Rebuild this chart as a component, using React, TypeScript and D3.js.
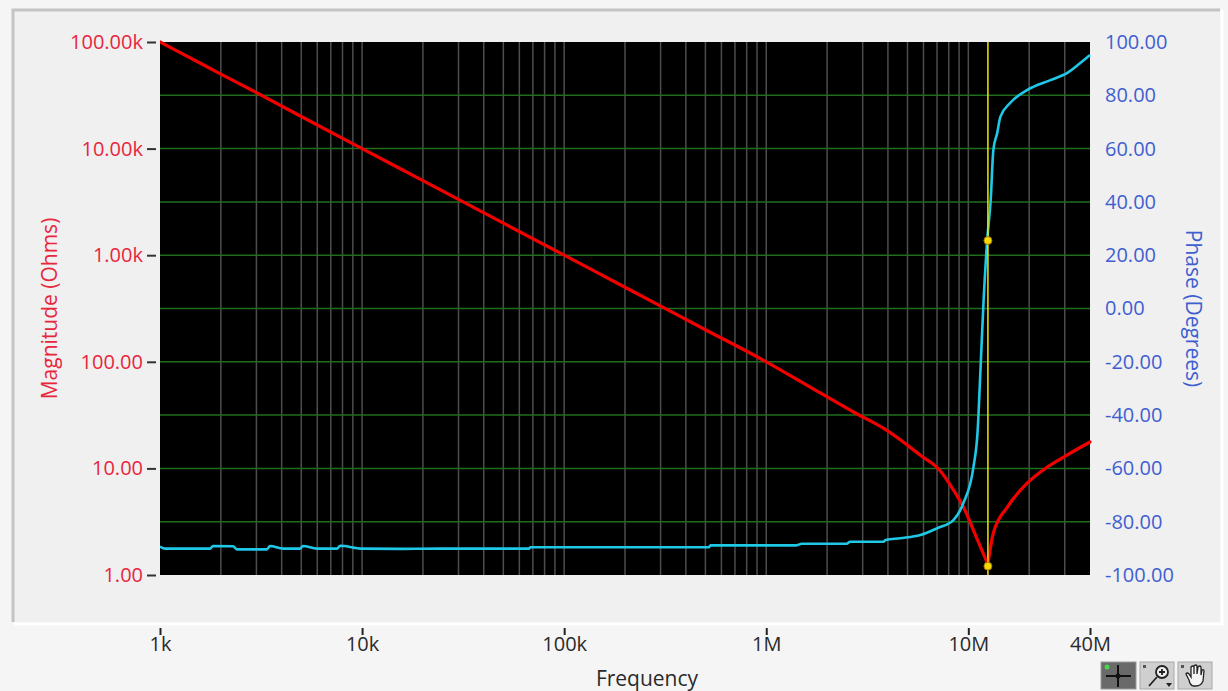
import { useEffect, useRef } from 'react';
import * as d3 from 'd3';

// Impedance sweep readings (Hz, Ohms)
const magFreq = [
  1e3, 1.3e3, 2e3, 3e3, 5e3, 1e4, 2e4, 5e4, 1e5, 2e5, 5e5, 1e6, 1.85e6, 2.7e6,
  3.97e6, 5.79e6, 7.27e6, 8.43e6, 9.45e6, 11.1e6, 12.5e6, 13.3e6, 15.6e6, 19.6e6,
  24.6e6, 30.9e6, 40e6,
];
const magValues = [
  100000, 77000, 50000, 33500, 20000, 10000, 5000, 2000, 1000, 500, 200, 100, 51, 33.8,
  22.6, 13.3, 9.47, 6.3, 4.35, 2.13, 1.25, 2.48, 4.34, 7.3,
  10.3, 13.4, 17.7,
];

// Phase readings (Hz, degrees)
const phaseFreq = [
  1e3, 1.06e3, 1.77e3, 1.83e3, 2.3e3, 2.4e3, 3.38e3, 3.5e3, 4.06e3, 4.93e3, 5.1e3, 5.98e3,
  7.52e3, 7.79e3, 1e4, 1.54e4, 2.43e4, 6.7e4, 6.8e4, 1.5e5, 5.2e5, 5.3e5, 1.4e6, 1.5e6,
  2.5e6, 2.6e6, 3.8e6, 3.9e6, 4.6e6, 5.79e6, 7.03e6, 8.43e6, 9.45e6, 10.6e6, 11.1e6, 11.5e6,
  11.9e6, 12.4e6, 12.9e6, 13.3e6, 13.9e6, 14.4e6, 16.1e6, 19.6e6, 25.5e6, 30.9e6, 35.8e6, 40e6,
];
const phaseValues = [
  -89.3, -90.1, -90.1, -89.1, -89.2, -90.4, -90.4, -89.1, -90.1, -90.1, -89.1, -90.1,
  -90.1, -89.0, -90.1, -90.2, -90.1, -90.1, -89.6, -89.6, -89.6, -88.9, -88.9, -88.3,
  -88.3, -87.5, -87.5, -86.9, -86.2, -85.0, -82.4, -79.4, -73.0, -59.5, -46.7, -22.0,
  3.2, 25.7, 40.7, 59.5, 65.9, 71.9, 77.1, 82.0, 85.7, 88.4, 92.1, 95.1,
];

const cursorFreq = 12.5e6;
const cursorMag = 1.21;
const cursorPhase = 25.5;

const magTicks = [1, 10, 100, 1e3, 1e4, 1e5];
const phaseTicks = d3.range(-100, 101, 20);
const freqTicks = [1e3, 1e4, 1e5, 1e6, 1e7, 4e7];

const W = 1228;
const H = 691;
const FONT = '"Open Sans", "DejaVu Sans", sans-serif';

export default function App() {
  const svgRef = useRef<SVGSVGElement>(null);

  useEffect(() => {
    if (!svgRef.current) return;
    const svg = d3.select(svgRef.current);
    svg.selectAll('*').remove();

    const plot = { left: 160, right: 1090, top: 42, bottom: 575 };

    const x = d3.scaleLog().domain([1e3, 4e7]).range([plot.left, plot.right]);
    const yMag = d3.scaleLog().domain([1, 1e5]).range([plot.bottom, plot.top]);
    const yPhase = d3.scaleLinear().domain([-100, 100]).range([plot.bottom, plot.top]);

    // background + panel
    svg.append('rect').attr('width', W).attr('height', H).attr('fill', '#f5f5f5');
    svg.append('rect')
      .attr('x', 12).attr('y', 9).attr('width', 1208).attr('height', 613)
      .attr('fill', '#f0f0f0');
    svg.append('path')
      .attr('d', 'M13,622 L13,10 L1220,10')
      .attr('fill', 'none').attr('stroke', '#c4c4c4').attr('stroke-width', 3);
    svg.append('path')
      .attr('d', 'M14,624 L1222,624 L1222,10')
      .attr('fill', 'none').attr('stroke', '#ffffff').attr('stroke-width', 3);

    // plot area
    svg.append('rect')
      .attr('x', plot.left).attr('y', plot.top)
      .attr('width', plot.right - plot.left).attr('height', plot.bottom - plot.top)
      .attr('fill', '#000');

    const grid = svg.append('g');
    const vLines: number[] = [];
    for (let dec = 1e3; dec <= 1e7; dec *= 10) {
      for (let m = 1; m <= 9; m++) {
        const f = dec * m;
        if (f > 1e3 && f < 4e7) vLines.push(f);
      }
    }
    grid.selectAll('.vg')
      .data(vLines)
      .enter().append('line')
      .attr('x1', d => x(d)).attr('x2', d => x(d))
      .attr('y1', plot.top).attr('y2', plot.bottom)
      .attr('stroke', '#4d4d4d').attr('stroke-width', 1.5);
    grid.selectAll('.hg')
      .data(phaseTicks.slice(1, -1))
      .enter().append('line')
      .attr('x1', plot.left).attr('x2', plot.right)
      .attr('y1', d => yPhase(d)).attr('y2', d => yPhase(d))
      .attr('stroke', '#1f6e1f').attr('stroke-width', 1.5);

    // traces
    const clip = svg.append('clipPath').attr('id', 'plotclip');
    clip.append('rect')
      .attr('x', plot.left).attr('y', plot.top - 2)
      .attr('width', plot.right - plot.left + 2).attr('height', plot.bottom - plot.top + 4);

    const traces = svg.append('g').attr('clip-path', 'url(#plotclip)');

    // magnitude drawn as falling + rising halves so the notch stays sharp
    const magPts = magFreq.map((f, i) => [f, magValues[i]] as [number, number]);
    const minIdx = d3.minIndex(magValues);
    const magLine = d3.line<[number, number]>()
      .x(d => x(d[0]))
      .y(d => yMag(d[1]))
      .curve(d3.curveMonotoneX);
    [magPts.slice(0, minIdx + 1), magPts.slice(minIdx)].forEach(part => {
      traces.append('path')
        .datum(part)
        .attr('fill', 'none')
        .attr('stroke', '#f20000')
        .attr('stroke-width', 3.2)
        .attr('stroke-linejoin', 'round')
        .attr('stroke-linecap', 'round')
        .attr('d', magLine);
    });

    const phaseLine = d3.line<number>()
      .x((_, i) => x(phaseFreq[i]))
      .y(d => yPhase(d))
      .curve(d3.curveMonotoneX);
    traces.append('path')
      .datum(phaseValues)
      .attr('fill', 'none')
      .attr('stroke', '#1ec8e6')
      .attr('stroke-width', 2.6)
      .attr('stroke-linejoin', 'round')
      .attr('d', phaseLine);

    // cursor
    traces.append('line')
      .attr('x1', x(cursorFreq)).attr('x2', x(cursorFreq))
      .attr('y1', plot.top).attr('y2', plot.bottom)
      .attr('stroke', '#f0e600').attr('stroke-width', 1.5);
    [yMag(cursorMag), yPhase(cursorPhase)].forEach(cy => {
      svg.append('circle')
        .attr('cx', x(cursorFreq)).attr('cy', cy).attr('r', 4)
        .attr('fill', '#f5d800').attr('stroke', '#a07000').attr('stroke-width', 1);
    });

    // left axis
    const fmtMag = (v: number) => (v >= 1000 ? `${(v / 1000).toFixed(2)}k` : v.toFixed(2));
    const leftAxis = svg.append('g')
      .attr('transform', `translate(${plot.left - 4},0)`)
      .call(d3.axisLeft(yMag).tickValues(magTicks).tickFormat(d => fmtMag(+d)).tickSize(9).tickPadding(4));
    leftAxis.select('.domain').remove();
    leftAxis.selectAll('.tick line').attr('stroke', '#333').attr('stroke-width', 2);
    leftAxis.selectAll('.tick text')
      .attr('fill', '#e8263c').style('font-family', FONT).style('font-size', '20px');

    // right axis
    const rightAxis = svg.append('g')
      .attr('transform', `translate(${plot.right},0)`)
      .call(d3.axisRight(yPhase).tickValues(phaseTicks).tickFormat(d => (+d).toFixed(2)).tickSize(0).tickPadding(15));
    rightAxis.select('.domain').remove();
    rightAxis.selectAll('.tick text')
      .attr('fill', '#3f5fd0').style('font-family', FONT).style('font-size', '20px');

    // bottom axis
    const fmtFreq = (v: number) => (v >= 1e6 ? `${v / 1e6}M` : `${v / 1e3}k`);
    const bottomAxis = svg.append('g')
      .attr('transform', 'translate(0,628)')
      .call(d3.axisBottom(x).tickValues(freqTicks).tickFormat(d => fmtFreq(+d)).tickSize(7).tickPadding(2));
    bottomAxis.select('.domain').remove();
    bottomAxis.selectAll('.tick line').attr('stroke', '#222').attr('stroke-width', 2);
    bottomAxis.selectAll('.tick text')
      .attr('fill', '#2a2a2a').style('font-family', FONT).style('font-size', '20px');

    // axis titles
    svg.append('text')
      .attr('transform', `translate(57,${(plot.top + plot.bottom) / 2}) rotate(-90)`)
      .attr('text-anchor', 'middle')
      .attr('fill', '#e8263c')
      .style('font-family', FONT).style('font-size', '21px')
      .text('Magnitude (Ohms)');
    svg.append('text')
      .attr('transform', `translate(1186,${(plot.top + plot.bottom) / 2}) rotate(90)`)
      .attr('text-anchor', 'middle')
      .attr('fill', '#3f5fd0')
      .style('font-family', FONT).style('font-size', '21px')
      .text('Phase (Degrees)');
    svg.append('text')
      .attr('x', 647).attr('y', 686)
      .attr('text-anchor', 'middle')
      .attr('fill', '#2a2a2a')
      .style('font-family', FONT).style('font-size', '21px')
      .text('Frequency');

    // graph palette buttons
    const tools = svg.append('g');
    tools.append('rect').attr('x', 1101).attr('y', 662).attr('width', 35).attr('height', 27)
      .attr('fill', '#6a6a6a').attr('stroke', '#9a9a9a');
    tools.append('path').attr('d', 'M1106,676 L1131,676 M1118,665 L1118,687')
      .attr('stroke', '#111').attr('stroke-width', 2);
    tools.append('circle').attr('cx', 1118).attr('cy', 676).attr('r', 2.5).attr('fill', '#111');
    tools.append('circle').attr('cx', 1107).attr('cy', 667).attr('r', 2.5).attr('fill', '#4cd44c');

    tools.append('rect').attr('x', 1140).attr('y', 662).attr('width', 34).attr('height', 27)
      .attr('fill', '#cfcfcf').attr('stroke', '#a8a8a8');
    tools.append('rect').attr('x', 1143).attr('y', 665).attr('width', 3).attr('height', 3).attr('fill', '#555');
    tools.append('circle').attr('cx', 1162).attr('cy', 672).attr('r', 6)
      .attr('fill', '#eee').attr('stroke', '#222').attr('stroke-width', 1.8);
    tools.append('path').attr('d', 'M1159,672 L1165,672 M1162,669 L1162,675 M1157,677 L1149,686')
      .attr('stroke', '#222').attr('stroke-width', 1.8);
    tools.append('path').attr('d', 'M1166,683 L1172,683 L1169,687 Z').attr('fill', '#222');

    tools.append('rect').attr('x', 1178).attr('y', 662).attr('width', 34).attr('height', 27)
      .attr('fill', '#cfcfcf').attr('stroke', '#a8a8a8');
    tools.append('rect').attr('x', 1181).attr('y', 665).attr('width', 3).attr('height', 3).attr('fill', '#555');
    tools.append('path')
      .attr('d', 'M1189,680 L1186,674 Q1187,672 1189,674 L1191,677 L1191,667 Q1193,665 1194,667 L1194,674 L1194,666 Q1196,664 1197,666 L1197,674 L1198,667 Q1200,665 1201,667 L1201,675 L1202,670 Q1204,669 1204,671 L1203,681 Q1201,686 1196,686 L1193,686 Q1190,685 1189,680 Z')
      .attr('fill', '#f4f4f4').attr('stroke', '#222').attr('stroke-width', 1.3);
  }, []);

  return (
    <svg
      ref={svgRef}
      width={W}
      height={H}
      style={{ position: 'absolute', left: 0, top: 0, display: 'block' }}
    />
  );
}
